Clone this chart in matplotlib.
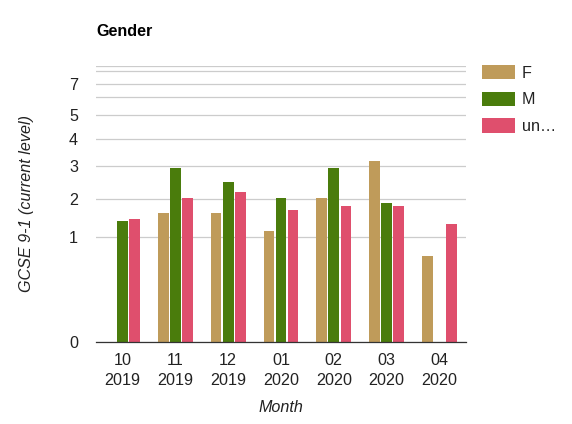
"""
Grouped bar chart of GCSE 9-1 level by gender and month.
"""
import matplotlib
matplotlib.use('Agg')
import matplotlib.pyplot as plt
import numpy as np

plt.rcParams['font.family'] = ['Liberation Sans', 'DejaVu Sans']

months = ['10\n2019', '11\n2019', '12\n2019', '01\n2020', '02\n2020', '03\n2020', '04\n2020']
series = ['F', 'M', 'un\u2026']
f_vals = [np.nan, 1.62, 1.62, 1.14, 2.02, 3.18, 0.82]
m_vals = [1.42, 2.92, 2.51, 2.02, 2.92, 1.89, np.nan]
u_vals = [1.46, 2.02, 2.20, 1.70, 1.81, 1.81, 1.34]

ytick_vals = [0, 1, 2, 3, 4, 5, 6, 7, 8, 9]
ytick_labels = ['0', '1', '2', '3', '4', '5', '', '7', '', '']

COLORS = ['#bf9b5a', '#4a7c0c', '#df4f6d']
FS = 11.6

# the axis is a compressed (log-like) scale: height in px for each gridline value
SCALE_VALS = np.array([0, 1, 2, 3, 4, 5, 6, 7, 8, 9], dtype=float)
SCALE_PX = np.array([0, 105, 142.7, 176, 202.7, 226.7, 244.7, 258, 271, 275.7])


def fwd(v):
    v = np.asarray(v, dtype=float)
    return np.interp(v, SCALE_VALS, SCALE_PX, left=0, right=SCALE_PX[-1])


def inv(p):
    p = np.asarray(p, dtype=float)
    return np.interp(p, SCALE_PX, SCALE_VALS)


W, H = 572, 424
fig = plt.figure(figsize=(W / 100, H / 100), dpi=100)
ax = fig.add_axes([96 / W, 1 - 341.7 / H, 370 / W, (341.7 - 66) / H])
ax.set_yscale('function', functions=(fwd, inv))

x = np.arange(len(months))
width = 0.203
step = 0.228
for i, (vals, color, label) in enumerate(zip([f_vals, m_vals, u_vals], COLORS, series)):
    ax.bar(x + (i - 1) * step, vals, width=width, color=color, label=label,
           linewidth=0, zorder=3)

ax.set_xlim(-0.5, len(months) - 0.5)
ax.set_ylim(0, 9)
ax.set_yticks(ytick_vals)
ax.set_yticklabels(ytick_labels)
ax.set_xticks(x)
ax.set_xticklabels(months, linespacing=1.42)
ax.tick_params(axis='y', length=0, pad=13, labelsize=FS, labelcolor='#222222')
ax.tick_params(axis='x', length=0, pad=8, labelsize=FS, labelcolor='#222222')
ax.yaxis.grid(True, color='#cccccc', linewidth=0.9, zorder=0)
ax.set_axisbelow(True)

for side in ['left', 'right', 'top']:
    ax.spines[side].set_visible(False)
ax.spines['bottom'].set_color('#333333')
ax.spines['bottom'].set_linewidth(0.9)
ax.spines['bottom'].set_zorder(4)

ax.set_xlabel('Month', fontsize=FS, style='italic', color='#222222', labelpad=9)
ax.set_ylabel('GCSE 9-1 (current level)', fontsize=FS, style='italic',
              color='#222222', labelpad=25)

fig.text(96 / W, 1 - 35.5 / H, 'Gender', fontsize=FS, fontweight='bold',
         color='#000000', ha='left', va='baseline')

ax.legend(loc='upper left', bbox_to_anchor=(482.3 / W, 1 - 65 / H),
          bbox_transform=fig.transFigure, frameon=False, fontsize=FS,
          handlelength=2.05, handleheight=1.0, handletextpad=0.42,
          labelspacing=0.68, borderpad=0, borderaxespad=0, labelcolor='#222222')

fig.savefig('out.png', dpi=100)
